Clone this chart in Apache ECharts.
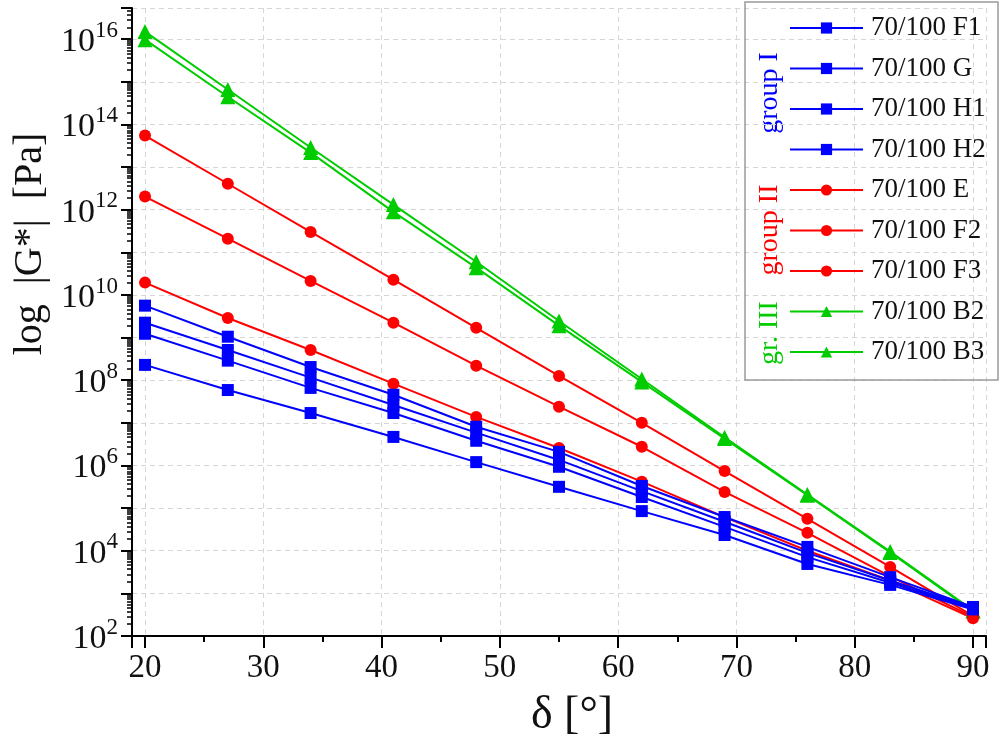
<!DOCTYPE html>
<html>
<head>
<meta charset="utf-8">
<script src="https://cdn.jsdelivr.net/npm/echarts@6/dist/echarts.min.js"></script>
<style>
  html, body { margin: 0; padding: 0; background: #fff; }
  #chart { width: 1000px; height: 748px; }
</style>
</head>
<body>
<div id="chart"></div>
<script>
  // delta [deg]
  const delta = [20, 27, 34, 41, 48, 55, 62, 69, 76, 83, 90]

  // |G*| [Pa], group I
  const F1 = [5.62e9, 1.05e9, 2.04e8, 4.57e7, 8.13e6, 2.09e6, 3.31e5, 6.17e4, 1.23e4, 2.4e3, 4.8e2]
  const G = [2.24e9, 5.13e8, 1.15e8, 2.63e7, 5.89e6, 1.35e6, 2.51e5, 4.79e4, 8.91e3, 2.0e3, 4.6e2]
  const H1 = [1.23e9, 2.88e8, 6.61e7, 1.70e7, 3.80e6, 9.33e5, 1.82e5, 3.63e4, 7.08e3, 1.78e3, 4.4e2]
  const H2 = [2.29e8, 5.89e7, 1.70e7, 4.68e6, 1.20e6, 3.16e5, 8.51e4, 2.34e4, 4.9e3, 1.58e3, 4.2e2]
  // group II
  const E = [5.5e13, 4.07e12, 3.02e11, 2.29e10, 1.70e9, 1.26e8, 1.0e7, 7.41e5, 5.62e4, 4.17e3, 2.95e2]
  const F2 = [2.04e12, 2.09e11, 2.14e10, 2.24e9, 2.19e8, 2.40e7, 2.75e6, 2.40e5, 2.63e4, 2.5e3, 2.8e2]
  const F3 = [1.95e10, 2.88e9, 5.13e8, 8.32e7, 1.38e7, 2.57e6, 4.17e5, 6.17e4, 1.0e4, 2.0e3, 2.6e2]
  // group III
  const B2 = [1.51e16, 6.61e14, 2.88e13, 1.32e12, 6.03e10, 2.45e9, 1.07e8, 4.57e6, 2.09e5, 9.55e3, 4.0e2]
  const B3 = [9.77e15, 4.47e14, 2.19e13, 8.91e11, 4.37e10, 1.91e9, 9.12e7, 4.27e6, 2.0e5, 9.12e3, 3.8e2]

  const legendNames = ['70/100 F1', '70/100 G', '70/100 H1', '70/100 H2', '70/100 E', '70/100 F2', '70/100 F3', '70/100 B2', '70/100 B3']

  const BLUE = '#0000ff'
  const RED = '#ff0000'
  const GREEN = '#00cc00'
  const FONT = "'Liberation Serif', 'DejaVu Serif', serif"

  function line(name, vals, color, symbol, size) {
    return {
      name: name,
      type: 'line',
      data: delta.map((d, i) => [d, vals[i]]),
      symbol: symbol,
      symbolSize: size,
      lineStyle: { color: color, width: 2 },
      itemStyle: { color: color },
      emphasis: { disabled: true }
    }
  }

  const chart = echarts.init(document.getElementById('chart'))
  chart.setOption({
    animation: false,
    grid: { left: 132, right: 14, top: 8, bottom: 112 },
    legend: {
      data: legendNames,
      orient: 'vertical',
      left: 789,
      top: 13,
      padding: 0,
      itemWidth: 73,
      itemHeight: 14,
      itemGap: 10.5,
      textStyle: { fontFamily: FONT, fontSize: 27, lineHeight: 30, color: '#111', padding: [0, 0, 0, 3] }
    },
    xAxis: {
      type: 'value',
      min: 18.9,
      max: 91.1,
      splitNumber: 7,
      axisLine: { lineStyle: { color: '#000', width: 2 } },
      axisTick: { length: 12, lineStyle: { color: '#000', width: 2 } },
      minorTick: { show: true, splitNumber: 2, length: 6, lineStyle: { color: '#000', width: 2 } },
      axisLabel: {
        margin: 16,
        fontFamily: FONT,
        fontSize: 33,
        color: '#111',
        formatter: v => (Math.abs(v % 10) < 1e-6 ? String(v) : '')
      },
      splitLine: { show: true, lineStyle: { color: '#d6d6d6', type: [5, 4], width: 1 } }
    },
    yAxis: {
      type: 'log',
      logBase: 10,
      min: 100,
      max: 5.4e16,
      interval: 1,
      axisLine: { show: true, lineStyle: { color: '#000', width: 2 } },
      axisTick: { show: true, length: 11, lineStyle: { color: '#000', width: 2 } },
      minorTick: { show: true, splitNumber: 10, length: 5, lineStyle: { color: '#000', width: 1.5 } },
      axisLabel: {
        margin: 14,
        formatter: v => {
          const e = Math.log10(v)
          const n = Math.round(e)
          if (Math.abs(e - n) > 1e-6 || n % 2 !== 0) return ''
          return '{b|10}{s|' + n + '}'
        },
        rich: {
          b: { fontFamily: FONT, fontSize: 34, color: '#111', lineHeight: 40, verticalAlign: 'bottom' },
          s: { fontFamily: FONT, fontSize: 23, color: '#111', lineHeight: 40, verticalAlign: 'top', padding: [0, 0, 12, 0] }
        }
      },
      splitLine: { show: true, lineStyle: { color: '#d6d6d6', type: [5, 4], width: 1 } }
    },
    graphic: [
      {
        type: 'rect',
        shape: { x: 745, y: 2, width: 253, height: 378 },
        style: { fill: 'none', stroke: '#9a9a9a', lineWidth: 1.5 },
        z: 10
      },
      {
        type: 'text', x: 770, y: 93, rotation: Math.PI / 2,
        style: { text: 'group I', fontFamily: FONT, fontSize: 28, fill: BLUE, align: 'center', verticalAlign: 'middle' }
      },
      {
        type: 'text', x: 770, y: 230, rotation: Math.PI / 2,
        style: { text: 'group II', fontFamily: FONT, fontSize: 28, fill: RED, align: 'center', verticalAlign: 'middle' }
      },
      {
        type: 'text', x: 770, y: 333, rotation: Math.PI / 2,
        style: { text: 'gr. III', fontFamily: FONT, fontSize: 28, fill: GREEN, align: 'center', verticalAlign: 'middle' }
      },
      {
        type: 'text', x: 30, y: 244, rotation: Math.PI / 2,
        style: { text: 'log  |G*|  [Pa]', fontFamily: FONT, fontSize: 40, fill: '#111', align: 'center', verticalAlign: 'middle' }
      },
      {
        type: 'text', x: 572, y: 716,
        style: { text: 'δ [°]', fontFamily: FONT, fontSize: 46, fill: '#111', align: 'center', verticalAlign: 'middle' }
      }
    ],
    series: [
      line('70/100 B2', B2, GREEN, 'triangle', 15),
      line('70/100 B3', B3, GREEN, 'triangle', 15),
      line('70/100 E', E, RED, 'circle', 12),
      line('70/100 F2', F2, RED, 'circle', 12),
      line('70/100 F3', F3, RED, 'circle', 12),
      line('70/100 F1', F1, BLUE, 'rect', 12),
      line('70/100 G', G, BLUE, 'rect', 12),
      line('70/100 H1', H1, BLUE, 'rect', 12),
      line('70/100 H2', H2, BLUE, 'rect', 12)
    ]
  })
</script>
</body>
</html>
